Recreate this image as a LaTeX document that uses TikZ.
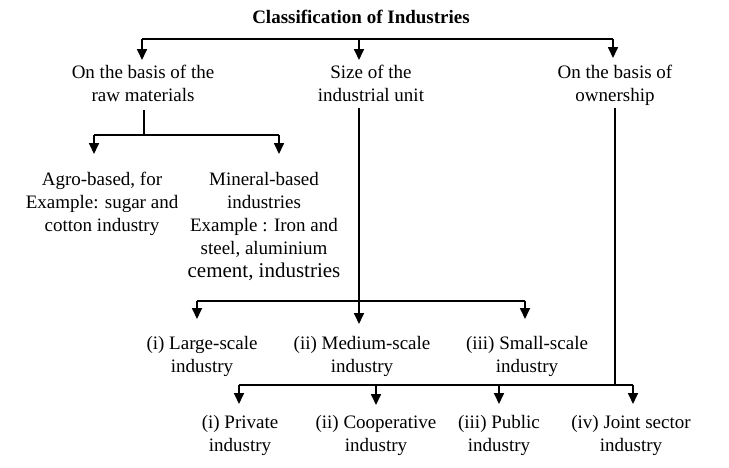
\documentclass[tikz,border=0pt]{standalone}
\usepackage{fontspec}
\setmainfont{Liberation Serif}
\usetikzlibrary{arrows.meta}
\begin{document}
\begin{tikzpicture}[x=1pt,y=-1pt,
  line/.style={line width=1.7pt},
  arr/.style={line width=1.7pt,-{Triangle[length=11pt,width=10pt]}},
  lbl/.style={inner sep=0pt,anchor=north,align=center,font={\fontsize{19pt}{23pt}\selectfont}},
  ttl/.style={inner sep=0pt,anchor=base,font={\bfseries\fontsize{19pt}{23pt}\selectfont}}]
\useasboundingbox[fill=white] (0,0) rectangle (729,467);
% nodes
\node[ttl] (title) at (361,23) {Classification of Industries};
\node[lbl] (raw) at (143,65) {On the basis of the\\raw materials};
\node[lbl] (size) at (371,65) {Size of the\\industrial unit};
\node[lbl] (own) at (615,65) {On the basis of\\ownership};
\node[lbl] (agro) at (102,172) {Agro-based, for\\Example: sugar and\\cotton industry};
\node[lbl] (mineral) at (264,172) {Mineral-based\\industries\\Example : Iron and\\steel, aluminium\\{\fontsize{21pt}{23pt}\selectfont cement, industries}};
\node[lbl] (large) at (202,336) {(i) Large-scale\\industry};
\node[lbl] (medium) at (362,336) {(ii) Medium-scale\\industry};
\node[lbl] (small) at (527,336) {(iii) Small-scale\\industry};
\node[lbl] (private) at (240,415) {(i) Private\\industry};
\node[lbl] (coop) at (376,415) {(ii) Cooperative\\industry};
\node[lbl] (public) at (499,415) {(iii) Public\\industry};
\node[lbl] (joint) at (631,415) {(iv) Joint sector\\industry};
% coordinates
\coordinate (b1L) at (142,39);
\coordinate (b1M) at (359,39);
\coordinate (b1R) at (613,39);
\coordinate (t1L) at (142,60);
\coordinate (t1M) at (359,60);
\coordinate (t1R) at (613,58);
\coordinate (rawS) at (144,110);
\coordinate (b2M) at (144,135);
\coordinate (b2L) at (94,135);
\coordinate (b2R) at (279,135);
\coordinate (t2L) at (94,154);
\coordinate (t2R) at (279,154);
\coordinate (sizeS) at (359,108);
\coordinate (b3L) at (197,301);
\coordinate (b3R) at (525,301);
\coordinate (t3L) at (197,319);
\coordinate (t3M) at (359,324);
\coordinate (t3R) at (525,319);
\coordinate (ownS) at (615,108);
\coordinate (b4J) at (615,385);
\coordinate (b4L) at (239,385);
\coordinate (b4R) at (633,385);
\coordinate (t4a) at (239,404);
\coordinate (t4b) at (376,405);
\coordinate (t4c) at (499,404);
\coordinate (t4d) at (633,404);
% level 1
\draw[line] (b1L) -- (b1R);
\draw[arr] (b1L) -- (t1L);
\draw[arr] (b1M) -- (t1M);
\draw[arr] (b1R) -- (t1R);
% raw materials
\draw[line] (rawS) -- (b2M);
\draw[line] (b2L) -- (b2R);
\draw[arr] (b2L) -- (t2L);
\draw[arr] (b2R) -- (t2R);
% size
\draw[arr] (sizeS) -- (t3M);
\draw[line] (b3L) -- (b3R);
\draw[arr] (b3L) -- (t3L);
\draw[arr] (b3R) -- (t3R);
% ownership
\draw[line] (ownS) -- (b4J);
\draw[line] (b4L) -- (b4R);
\draw[arr] (b4L) -- (t4a);
\draw[arr] (b4L -| t4b) -- (t4b);
\draw[arr] (b4L -| t4c) -- (t4c);
\draw[arr] (b4R) -- (t4d);
\end{tikzpicture}
\end{document}
